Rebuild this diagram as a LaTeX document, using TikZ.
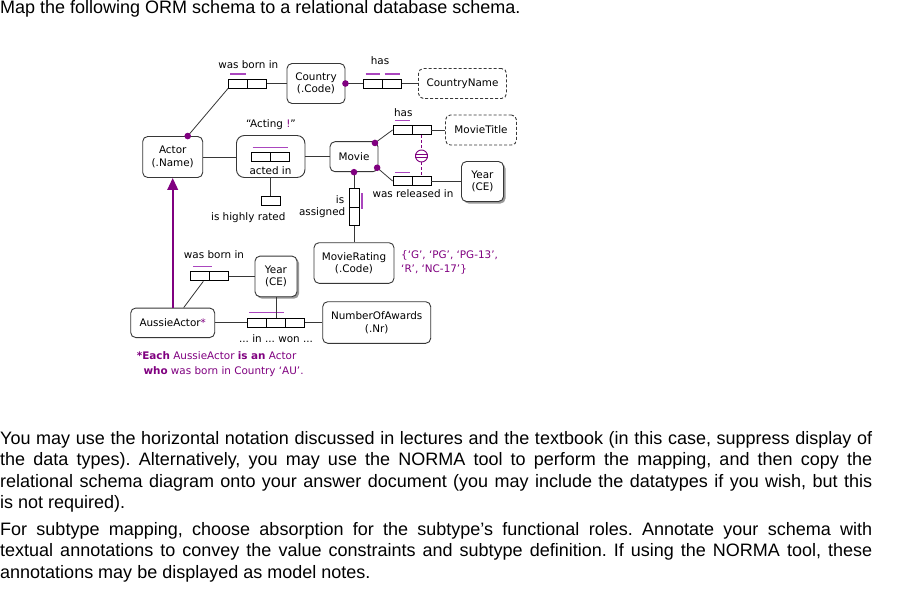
\documentclass[tikz,border=0pt]{standalone}
\usepackage{fontspec}
\setmainfont{Liberation Sans}
\newfontfamily\ormfont{DejaVu Sans}
\usetikzlibrary{arrows.meta,calc,shadows}
\definecolor{ormpurple}{RGB}{128,0,128}
\definecolor{barpurple}{RGB}{170,70,190}
\definecolor{ormgray}{RGB}{55,55,55}
\frenchspacing
\tikzset{
  ent/.style={draw=ormgray, line width=0.9pt, rounded corners=5pt, fill=white, inner sep=0pt,
    font=\ormfont\fontsize{10.4}{12.5}\selectfont, align=center, text=black},
  val/.style={ent, dashed, dash pattern=on 3pt off 2pt},
  shad/.style={drop shadow={shadow xshift=2pt, shadow yshift=-2pt, fill=black!40, opacity=1}},
  role/.style={draw=black, line width=0.9pt, minimum width=19pt, minimum height=9pt, inner sep=0pt, fill=white},
  vrole/.style={draw=black, line width=0.9pt, minimum width=10pt, minimum height=18.7pt, inner sep=0pt, fill=white},
  conn/.style={draw=ormgray, line width=0.8pt},
  ubar/.style={draw=barpurple, line width=1.3pt},
  lbl/.style={font=\ormfont\fontsize{10.4}{12.5}\selectfont, text=black, inner sep=0pt},
  mdot/.style={fill=ormpurple},
  subtype/.style={draw=ormpurple, line width=2.2pt, -{Triangle[length=12pt,width=10.5pt]}},
  body/.style={font=\fontsize{18}{21.5}\selectfont, inner sep=0pt, anchor=base west},
}
\begin{document}
\begin{tikzpicture}[x=1pt,y=-1pt]
\fill[white] (0,0) rectangle (897,607);
\useasboundingbox (0,0) rectangle (897,607);

% body text
\node[body] (title) at (0,14) {Map the following ORM schema to a relational database schema.};
\node[body] (p1a) at (0,444) {\makebox[872pt][s]{You may use the horizontal notation discussed in lectures and the textbook (in this case, suppress display of}};
\node[body] (p1b) at (0,465.5) {\makebox[872pt][s]{the data types). Alternatively, you may use the NORMA tool to perform the mapping, and then copy the}};
\node[body] (p1c) at (0,487) {\makebox[872pt][s]{relational schema diagram onto your answer document (you may include the datatypes if you wish, but this}};
\node[body] (p1d) at (0,508.5) {is not required).};
\node[body] (p2a) at (0,535) {\makebox[872pt][s]{For subtype mapping, choose absorption for the subtype’s functional roles. Annotate your schema with}};
\node[body] (p2b) at (0,556.5) {\makebox[872pt][s]{textual annotations to convey the value constraints and subtype definition. If using the NORMA tool, these}};
\node[body] (p2c) at (0,578) {annotations may be displayed as model notes.};

% entity and value types
\node[ent, minimum width=60pt, minimum height=41pt] (actor) at (172.7,157) {Actor\\(.Name)};
\node[ent, minimum width=58pt, minimum height=40pt] (country) at (316,83.5) {Country\\(.Code)};
\node[val, minimum width=88pt, minimum height=30pt] (cname) at (462.5,83.5) {CountryName};
\node[ent, minimum width=48pt, minimum height=30pt] (movie) at (354,156.7) {Movie};
\node[val, minimum width=71pt, minimum height=30pt] (mtitle) at (481,130) {MovieTitle};
\node[ent, shad, minimum width=42pt, minimum height=40pt] (year1) at (482.5,181.5) {Year\\(CE)};
\node[ent, minimum width=80pt, minimum height=40.6pt] (rating) at (354,263) {MovieRating\\(.Code)};
\node[ent, minimum width=108pt, minimum height=41.6pt] (noa) at (376.7,322.5) {NumberOfAwards\\(.Nr)};
\node[ent, minimum width=84pt, minimum height=29.5pt] (aussie) at (172.7,322.8) {AussieActor\textcolor{ormpurple}{*}};
\node[ent, shad, minimum width=42pt, minimum height=40.6pt] (year2) at (276,276.4) {Year\\(CE)};

% objectified fact type Acting
\node[draw=ormgray, line width=0.9pt, rounded corners=8pt, minimum width=68.5pt, minimum height=42pt] (acting) at (270.7,156.5) {};
\node[lbl] (actinglbl) at (271,124.5) {“Acting \textcolor{ormpurple}{!}”};
\node[role] (ac1) at (261,157) {};
\node[role] (ac2) at (280,157) {};
\draw[ubar] (252.7,147.3) -- (288.3,147.3);
\node[lbl] (aclbl) at (270.5,170.5) {acted in};
\node[role] (hr) at (270.7,200.5) {};
\node[lbl] (hrlbl) at (248.3,218) {is highly rated};

% Actor was born in Country
\node[role] (a1) at (238,83.5) {};
\node[role] (a2) at (257,83.5) {};
\draw[ubar] (230,74) -- (246,74);
\node[lbl] (a-lbl) at (248.3,64.5) {was born in};

% Country has CountryName
\node[role] (h1) at (373,83.5) {};
\node[role] (h2) at (392,83.5) {};
\draw[ubar] (365.5,74) -- (380,74);
\draw[ubar] (384.5,74) -- (399.5,74);
\node[lbl] (h-lbl) at (380,61) {has};

% Movie has MovieTitle
\node[role] (mt1) at (402.5,130) {};
\node[role] (mt2) at (421.5,130) {};
\draw[ubar] (395,120.7) -- (410,120.7);
\node[lbl] (mt-lbl) at (403.3,113) {has};

% Movie was released in Year
\node[role] (ri1) at (402.5,181) {};
\node[role] (ri2) at (421.5,181) {};
\draw[ubar] (395,172.5) -- (410,172.5);
\node[lbl] (ri-lbl) at (413,194) {was released in};

% external uniqueness
\node[draw=ormpurple, line width=0.9pt, circle, minimum size=12pt, inner sep=0pt, fill=white] (euc) at (421.5,156) {};
\draw[ormpurple, line width=0.8pt] ($(euc.west)+(0,-1.3)$) -- ($(euc.east)+(0,-1.3)$);
\draw[ormpurple, line width=0.8pt] ($(euc.west)+(0,1.3)$) -- ($(euc.east)+(0,1.3)$);
\draw[ormpurple, line width=0.9pt, dash pattern=on 3pt off 2pt] (mt2.south) -- (euc.north);
\draw[ormpurple, line width=0.9pt, dash pattern=on 3pt off 2pt] (euc.south) -- (ri2.north);

% Movie is assigned MovieRating
\node[vrole] (ia1) at (354,197.6) {};
\node[vrole] (ia2) at (354,216.3) {};
\draw[ubar] (362,193.3) -- (362,209.3);
\node[lbl, anchor=east] (is-lbl) at (344.5,200) {is};
\node[lbl, anchor=east] (as-lbl) at (345.5,213) {assigned};
\node[lbl, anchor=north west, align=left, text=ormpurple, font=\ormfont\fontsize{10.4}{13.5}\selectfont] (vc) at (401,250.5) {\{‘G’, ‘PG’, ‘PG-13’,\\‘R’, ‘NC-17’\}};

% AussieActor was born in Year
\node[role] (ab1) at (200.3,276.4) {};
\node[role] (ab2) at (219.3,276.4) {};
\draw[ubar] (193.3,266.7) -- (212.3,266.7);
\node[lbl] (ab-lbl) at (214,255) {was born in};

% ternary ... in ... won ...
\node[role] (t1) at (257,322.5) {};
\node[role] (t2) at (276,322.5) {};
\node[role] (t3) at (295,322.5) {};
\draw[ubar] (249,312.7) -- (284,312.7);
\node[lbl] (t-lbl) at (276,338.5) {... in ... won ...};

% connectors
\draw[conn] ($(actor.north)+(15,0)$) -- (a1.south west);
\draw[conn] (a2.east) -- (a2.east -| country.west);
\draw[conn] (country.east) -- (h1.west);
\draw[conn] (h2.east) -- (h2.east -| cname.west);
\draw[conn] (actor.east) -- (actor.east -| acting.west);
\draw[conn] (acting.east) -- (acting.east -| movie.west);
\draw[conn] (acting.south) -- (hr.north);
\draw[conn] ($(movie.north east)+(-3.5,1.7)$) -- (mt1.west);
\draw[conn] (mt2.east) -- (mt2.east -| mtitle.west);
\draw[conn] ($(movie.south east)+(-1.3,-4.4)$) -- (ri1.west);
\draw[conn] (ri2.east) -- (ri2.east -| year1.west);
\draw[conn] (movie.south) -- (ia1.north);
\draw[conn] (ia2.south) -- (rating.north);
\draw[conn] ($(aussie.north)+(11,0)$) -- ($(ab1.south)+(3,0)$);
\draw[conn] (ab2.east) -- (ab2.east -| year2.west);
\draw[conn] (aussie.east) -- (aussie.east -| t1.west);
\draw[conn] (year2.south) -- (t2.north);
\draw[conn] (t3.east) -- (t3.east -| noa.west);
\draw[subtype] (aussie.north) -- (actor.south);

% role dots
\fill[mdot] ($(actor.north)+(15,0)$) circle (3.3pt);
\fill[mdot] (country.east) circle (3.3pt);
\fill[mdot] ($(movie.north east)+(-3.5,1.7)$) circle (3.3pt);
\fill[mdot] ($(movie.south east)+(-1.3,-4.4)$) circle (3.3pt);
\fill[mdot] (movie.south) circle (3.3pt);

% subtype note
\node[lbl, anchor=north west, align=left, text=ormpurple, font=\ormfont\fontsize{10.4}{15}\selectfont] (note) at (136.7,351) {\textbf{*Each} AussieActor \textbf{is an} Actor\\\hspace*{6.6pt}\textbf{who} was born in Country ‘AU’.};
\end{tikzpicture}
\end{document}
